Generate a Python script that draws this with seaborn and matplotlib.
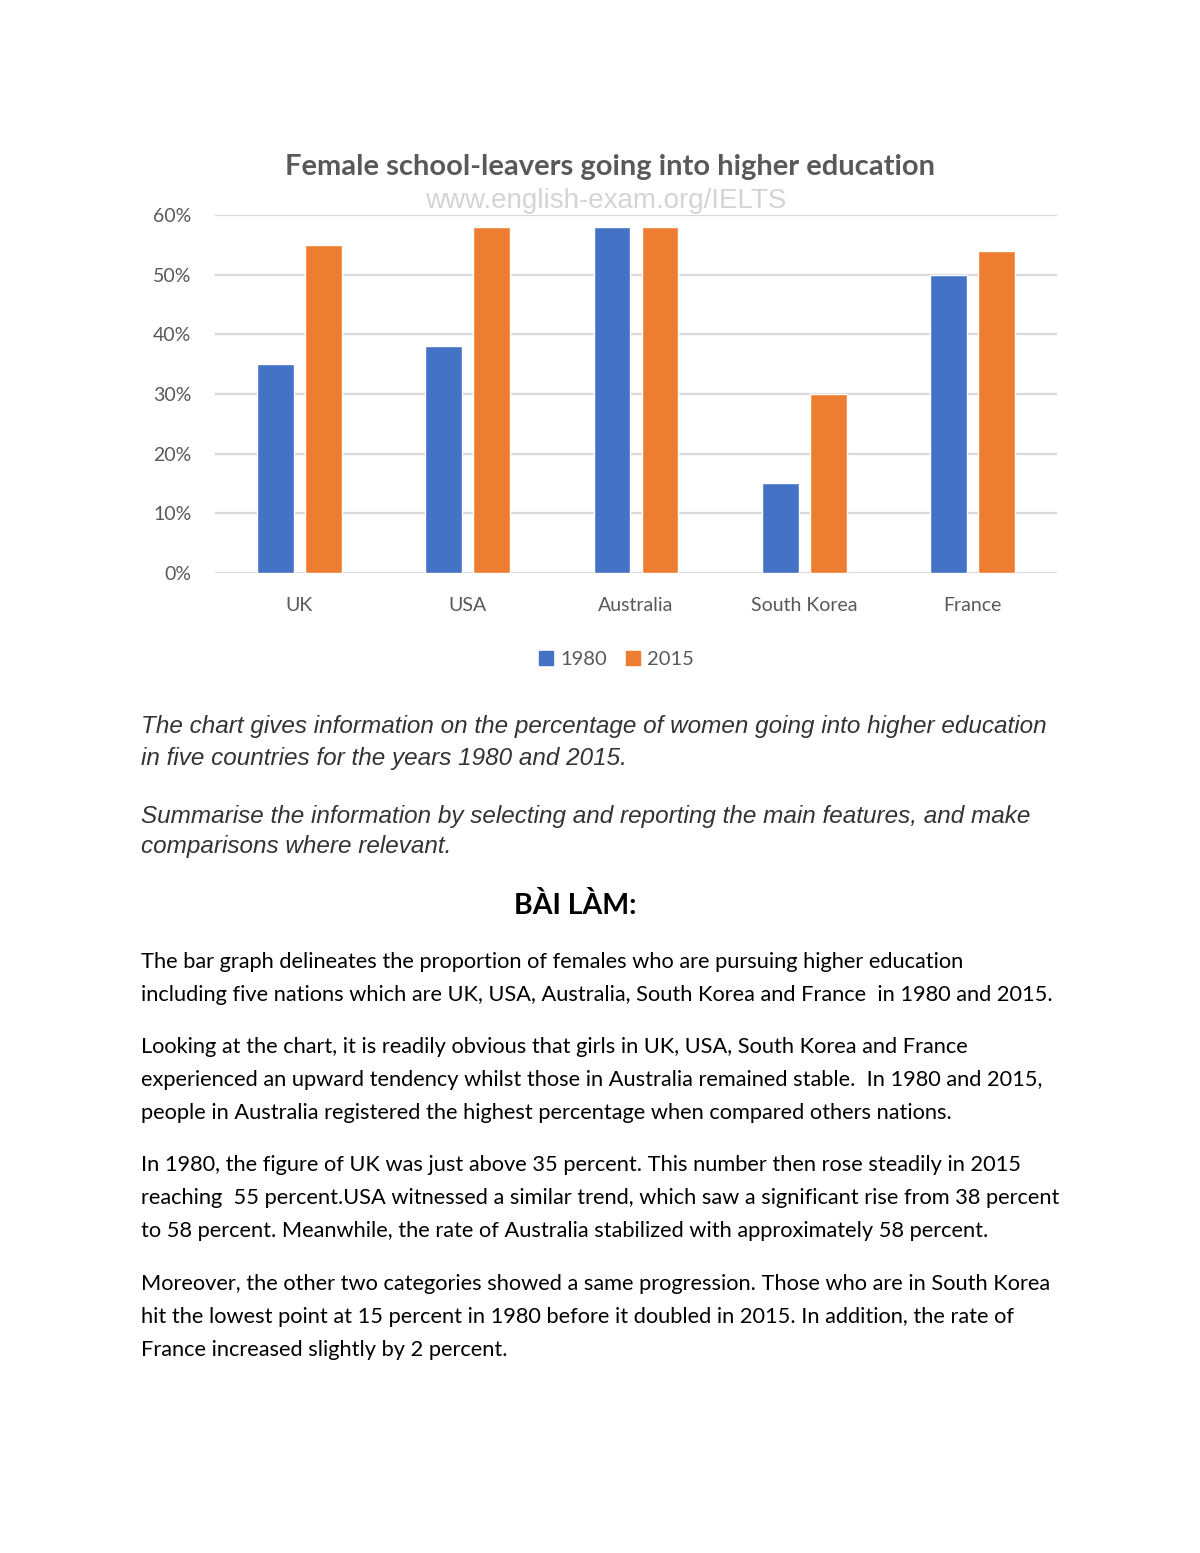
import matplotlib
matplotlib.use("Agg")
import matplotlib.pyplot as plt
import seaborn as sns
import pandas as pd
from matplotlib.ticker import FuncFormatter
from matplotlib.lines import Line2D

countries = ["UK", "USA", "Australia", "South Korea", "France"]
years = ["1980", "2015"]
pct_1980 = [35, 38, 58, 15, 50]
pct_2015 = [55, 58, 58, 30, 54]
y_ticks = [0, 10, 20, 30, 40, 50, 60]

df = pd.DataFrame({
    "country": countries * 2,
    "year": [years[0]] * 5 + [years[1]] * 5,
    "pct": pct_1980 + pct_2015,
})

W, H = 1200, 1553
BLUE, ORANGE, GREY = "#4472C4", "#ED7D31", "#595959"


def px(x, y):
    return x / W, 1 - y / H


sns.set_style("white")
plt.rcParams["font.family"] = ["Lato", "DejaVu Sans"]

fig = plt.figure(figsize=(W / 100, H / 100), dpi=100)
ax = fig.add_axes([215 / W, 1 - 573 / H, (1057 - 215) / W, (573 - 215) / H])

sns.barplot(data=df, x="country", y="pct", hue="year", palette=[BLUE, ORANGE],
            width=0.57, gap=0.23, saturation=1, ax=ax, legend=False)

ax.set_ylim(0, 60)
ax.set_xlim(-0.5, 4.5)
ax.set_yticks(y_ticks)
ax.yaxis.set_major_formatter(FuncFormatter(lambda v, p: f"{v:.0f}%"))
ax.grid(axis="y", color="#D9D9D9", linewidth=1.6)
ax.set_axisbelow(True)
sns.despine(ax=ax, left=True, bottom=True)
ax.tick_params(axis="both", length=0, labelsize=14, labelcolor=GREY)
ax.tick_params(axis="y", pad=17)
ax.tick_params(axis="x", pad=17)
ax.set_xlabel("")
ax.set_ylabel("")

# chart title + watermark
fig.text(*px(610, 167), "Female school-leavers going into higher education",
         ha="center", va="center", fontsize=21, fontweight="bold", color=GREY)
fig.text(*px(606, 201), "www.english-exam.org/IELTS", ha="center", va="center",
         fontsize=20, color="#D4D4D4", family="Liberation Sans")

handles = [Line2D([], [], marker="s", linestyle="", markersize=10, color=c) for c in (BLUE, ORANGE)]
fig.legend(handles, years, loc="center", bbox_to_anchor=px(615, 659), ncol=2, frameon=False,
           fontsize=14.5, labelcolor=GREY, handletextpad=0.2, columnspacing=0.8, handlelength=1)

# task prompt (italic)
prompt = [
    (727, "The chart gives information on the percentage of women going into higher education"),
    (759, "in five countries for the years 1980 and 2015."),
    (816, "Summarise the information by selecting and reporting the main features, and make"),
    (847, "comparisons where relevant."),
]
for y, line in prompt:
    fig.text(*px(141, y), line, ha="left", va="center", fontsize=17.5, style="italic",
             color="#333333", family="Liberation Sans")

fig.text(*px(575, 905), "BÀI LÀM:", ha="center", va="center", fontsize=20.5,
         fontweight="bold", color="black")

essay = [
    (962, "The bar graph delineates the proportion of females who are pursuing higher education"),
    (995, "including five nations which are UK, USA, Australia, South Korea and France  in 1980 and 2015."),
    (1047, "Looking at the chart, it is readily obvious that girls in UK, USA, South Korea and France"),
    (1080, "experienced an upward tendency whilst those in Australia remained stable.  In 1980 and 2015,"),
    (1113, "people in Australia registered the highest percentage when compared others nations."),
    (1165, "In 1980, the figure of UK was just above 35 percent. This number then rose steadily in 2015"),
    (1198, "reaching  55 percent.USA witnessed a similar trend, which saw a significant rise from 38 percent"),
    (1231, "to 58 percent. Meanwhile, the rate of Australia stabilized with approximately 58 percent."),
    (1284, "Moreover, the other two categories showed a same progression. Those who are in South Korea"),
    (1317, "hit the lowest point at 15 percent in 1980 before it doubled in 2015. In addition, the rate of"),
    (1350, "France increased slightly by 2 percent."),
]
for y, line in essay:
    fig.text(*px(141, y), line, ha="left", va="center", fontsize=15.7, color="black")

fig.savefig("out.png", dpi=100)
